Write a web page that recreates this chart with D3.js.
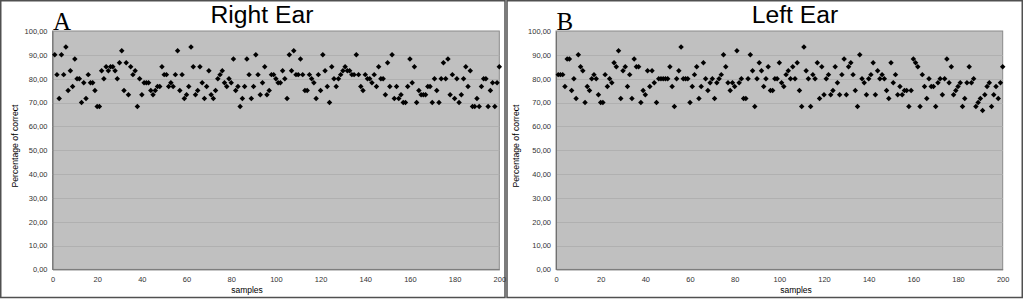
<!DOCTYPE html>
<html><head><meta charset="utf-8">
<script src="https://cdn.jsdelivr.net/npm/d3@7"></script>
<style>
html,body{margin:0;padding:0;background:#fff;}
svg{display:block;font-family:"Liberation Sans",Arial,sans-serif;}
</style></head>
<body><svg id="chart" width="1023" height="299"></svg>
<script>
const titles = ["Right Ear", "Left Ear"];
const letters = ["A", "B"];
const xTicks = [0, 20, 40, 60, 80, 100, 120, 140, 160, 180, 200];
const yTicks = [0, 10, 20, 30, 40, 50, 60, 70, 80, 90, 100];
const xLabel = "samples";
const yLabel = "Percentage of correct";

const rightEar = [
 90, 81.7, 71.7, 90, 81.7, 93.3, 75, 83.3, 76.7, 88.3,
 80, 80, 70, 78.3, 71.7, 81.7, 78.3, 78.3, 75, 68.3,
 68.3, 83.3, 80, 85, 83.3, 85, 85, 83.3, 80, 86.7,
 91.7, 75, 86.7, 73.3, 85, 81.7, 83.3, 68.3, 80, 73.3,
 78.3, 78.3, 78.3, 75, 73.3, 75, 76.7, 76.7, 85, 81.7,
 81.7, 76.7, 78.3, 76.7, 81.7, 91.7, 75, 81.7, 71.7, 73.3,
 76.7, 93.3, 85, 73.3, 75, 85, 78.3, 71.7, 76.7, 83.3,
 73.3, 71.7, 75, 80, 81.7, 83.3, 78.3, 76.7, 80, 78.3,
 88.3, 75, 76.7, 68.3, 71.7, 76.7, 88.3, 81.7, 71.7, 76.7,
 90, 81.7, 73.3, 78.3, 85, 73.3, 75, 81.7, 81.7, 80,
 78.3, 78.3, 83.3, 80, 71.7, 90, 83.3, 91.7, 81.7, 81.7,
 88.3, 81.7, 75, 75, 81.7, 80, 78.3, 71.7, 81.7, 75,
 90, 83.3, 76.7, 70, 85, 80, 76.7, 80, 81.7, 83.3,
 85, 83.3, 83.3, 81.7, 81.7, 90, 81.7, 76.7, 75, 81.7,
 80, 80, 78.3, 81.7, 76.7, 85, 80, 80, 73.3, 86.7,
 76.7, 90, 71.7, 76.7, 71.7, 73.3, 70, 70, 76.7, 88.3,
 78.3, 85, 70, 75, 73.3, 73.3, 73.3, 76.7, 76.7, 70,
 80, 75, 70, 80, 86.7, 80, 88.3, 73.3, 81.7, 71.7,
 80, 70, 73.3, 80, 85, 76.7, 83.3, 68.3, 68.3, 71.7,
 68.3, 76.7, 80, 80, 68.3, 75, 78.3, 68.3, 78.3, 85
];

const leftEar = [
 81.7, 81.7, 81.7, 76.7, 88.3, 88.3, 75, 80, 71.7, 90,
 85, 83.3, 70, 76.7, 75, 80, 81.7, 80, 73.3, 70,
 70, 81.7, 76.7, 80, 78.3, 86.7, 85, 91.7, 71.7, 83.3,
 85, 76.7, 81.7, 71.7, 88.3, 85, 85, 70, 75, 73.3,
 83.3, 76.7, 83.3, 78.3, 70, 80, 80, 80, 80, 80,
 85, 76.7, 68.3, 80, 83.3, 93.3, 80, 80, 80, 70,
 76.7, 81.7, 85, 71.7, 76.7, 86.7, 80, 75, 78.3, 80,
 71.7, 78.3, 80, 81.7, 90, 85, 78.3, 75, 78.3, 76.7,
 91.7, 78.3, 80, 71.7, 71.7, 80, 90, 83.3, 68.3, 80,
 86.7, 83.3, 76.7, 80, 85, 75, 75, 80, 80, 86.7,
 78.3, 76.7, 81.7, 83.3, 80, 85, 80, 86.7, 75, 68.3,
 93.3, 83.3, 80, 68.3, 81.7, 80, 86.7, 71.7, 85, 73.3,
 80, 81.7, 73.3, 75, 85, 78.3, 73.3, 81.7, 88.3, 73.3,
 85, 86.7, 81.7, 75, 68.3, 90, 80, 78.3, 73.3, 80,
 81.7, 86.7, 73.3, 83.3, 80, 81.7, 80, 75, 71.7, 86.7,
 78.3, 81.7, 73.3, 76.7, 73.3, 75, 75, 68.3, 75, 88.3,
 86.7, 85, 68.3, 81.7, 76.7, 71.7, 80, 76.7, 76.7, 68.3,
 78.3, 80, 73.3, 80, 88.3, 78.3, 85, 73.3, 75, 76.7,
 78.3, 68.3, 71.7, 78.3, 85, 78.3, 80, 68.3, 70, 71.7,
 66.7, 73.3, 76.7, 78.3, 68.3, 73.3, 76.7, 71.7, 78.3, 85
];

const svg = d3.select("#chart");
const fmtY = d => d.toFixed(2).replace(".", ",");

const panels = [
  {title: titles[0], letter: letters[0], data: rightEar, box: [0.75, 0.75, 505, 297.5],
   px0: 52.5, px1: 499.3, titleX: 262, xLabelX: 247, yLabelX: 15},
  {title: titles[1], letter: letters[1], data: leftEar, box: [507, 0.75, 1022.25, 297.5],
   px0: 556, px1: 1002.7, titleX: 795, xLabelX: 796, yLabelX: 516}
];
const pyTop = 31, pyBot = 269.4;

panels.forEach(p => {
  const g = svg.append("g");
  g.append("rect")
    .attr("x", p.box[0]).attr("y", p.box[1])
    .attr("width", p.box[2] - p.box[0]).attr("height", p.box[3] - p.box[1])
    .attr("fill", "#fff").attr("stroke", "#505050").attr("stroke-width", 1.5);

  const x = d3.scaleLinear().domain([0, 200]).range([p.px0, p.px1]);
  const y = d3.scaleLinear().domain([0, 100]).range([pyBot, pyTop]);

  g.append("rect")
    .attr("x", x(0)).attr("y", y(100))
    .attr("width", x(200) - x(0)).attr("height", y(0) - y(100))
    .attr("fill", "#c0c0c0").attr("stroke", "#8a8a8a").attr("stroke-width", 1);

  g.append("g").selectAll("line").data(yTicks.slice(1, -1)).join("line")
    .attr("x1", x(0)).attr("x2", x(200))
    .attr("y1", d => Math.round(y(d)) + 0.5).attr("y2", d => Math.round(y(d)) + 0.5)
    .attr("stroke", "#b0b0b0").attr("stroke-width", 1);

  const yAxis = d3.axisLeft(y).tickValues(yTicks).tickFormat(fmtY).tickSize(0).tickPadding(5);
  const ya = g.append("g").attr("transform", `translate(${x(0)},0)`).call(yAxis);
  ya.select(".domain").attr("stroke", "#707070");
  ya.selectAll("text").attr("font-size", "7.5px").attr("fill", "#333")
    .attr("font-family", "Liberation Sans, Arial, sans-serif");

  const xAxis = d3.axisBottom(x).tickValues(xTicks).tickSize(0).tickPadding(7);
  const xa = g.append("g").attr("transform", `translate(0,${y(0)})`).call(xAxis);
  xa.select(".domain").attr("stroke", "#707070");
  xa.selectAll("text").attr("font-size", "7.5px").attr("fill", "#333")
    .attr("font-family", "Liberation Sans, Arial, sans-serif");

  const diamond = d3.symbol().type(d3.symbolSquare).size(15);
  g.append("g").selectAll("path").data(p.data).join("path")
    .attr("d", diamond)
    .attr("transform", (d, i) => `translate(${x(i + 1)},${y(d)}) rotate(45)`)
    .attr("fill", "#000");

  g.append("text").attr("x", p.titleX).attr("y", 22.7).attr("text-anchor", "middle")
    .attr("font-size", "24.7px").attr("fill", "#000").text(p.title);
  g.append("text").attr("x", x(0) + 0.5).attr("y", 30).attr("font-size", "25px")
    .attr("font-family", "Liberation Serif, Times New Roman, serif").attr("fill", "#000").text(p.letter);
  g.append("text").attr("x", p.xLabelX).attr("y", 293.3).attr("text-anchor", "middle")
    .attr("font-size", "8.5px").attr("fill", "#000").text(xLabel);
  g.append("text").attr("transform", `translate(${p.yLabelX + 3},146) rotate(-90)`)
    .attr("text-anchor", "middle").attr("font-size", "8.7px").attr("fill", "#000").text(yLabel);
});
</script></body></html>
